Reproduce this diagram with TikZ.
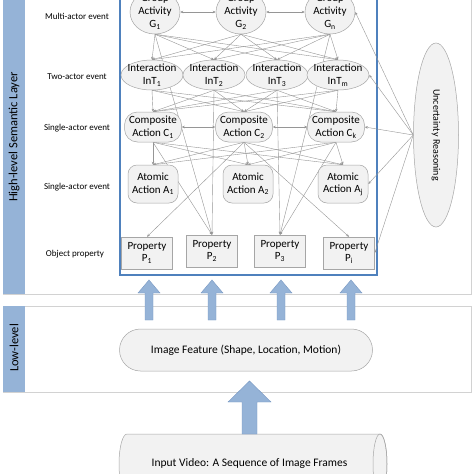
\documentclass[tikz,border=0pt]{standalone}
\usepackage{fontspec}
\setmainfont{Carlito}
\usetikzlibrary{shapes.geometric,arrows.meta}
\pgfdeclarelayer{back}
\pgfdeclarelayer{mid}
\pgfsetlayers{back,mid,main}
\definecolor{barblue}{RGB}{149,179,215}
\definecolor{arrowedge}{RGB}{120,152,195}
\definecolor{innerblue}{RGB}{79,129,189}
\definecolor{panelgray}{RGB}{210,210,210}
\definecolor{nodefill}{RGB}{242,242,242}
\definecolor{nodeline}{RGB}{166,166,166}
\definecolor{edgegray}{RGB}{150,150,150}
\newcommand{\blockarrow}[6]{%
  \filldraw[barrowstyle] (#1-#4,#3) -- (#1-#4,#2+#6) -- (#1-#5,#2+#6) -- (#1,#2)
    -- (#1+#5,#2+#6) -- (#1+#4,#2+#6) -- (#1+#4,#3) -- cycle;}
\begin{document}
\begin{tikzpicture}[x=1pt,y=-1pt,
  barrowstyle/.style={fill=barblue,draw=arrowedge,line width=0.4pt},
  nodetext/.style={font=\fontsize{11}{13}\selectfont,align=center,inner sep=0pt},
  basebox/.style={draw=nodeline,fill=nodefill,line width=0.5pt,inner sep=0pt},
  grp/.style={basebox,ellipse,minimum width=50pt,minimum height=44pt,label={[nodetext]center:{#1}}},
  inter/.style={basebox,ellipse,minimum width=62pt,minimum height=30pt,label={[nodetext]center:{#1}}},
  comp/.style={basebox,nodetext,rectangle,rounded corners=13pt,minimum width=57pt,minimum height=30pt},
  atom/.style={basebox,nodetext,font=\fontsize{11}{12.5}\selectfont,rectangle,rounded corners=9pt,minimum width=50pt,minimum height=38pt},
  prop/.style={basebox,nodetext,font=\fontsize{11}{12}\selectfont,rectangle,minimum width=51pt,minimum height=32pt},
  rowlab/.style={font=\fontsize{9}{11}\selectfont,inner sep=0pt},
  bartext/.style={font=\fontsize{12.5}{14}\selectfont,rotate=90,inner sep=0pt},
  edge/.style={draw=edgegray,line width=0.4pt,-{Stealth[length=3pt,width=2.6pt]}},
  dedge/.style={draw=edgegray,line width=0.4pt,{Stealth[length=3pt,width=2.6pt]}-{Stealth[length=3pt,width=2.6pt]}}
]
\useasboundingbox (0,0) rectangle (474,474);
\clip (0,0) rectangle (474,474);

% panels
\begin{pgfonlayer}{back}
\draw[panelgray,line width=0.6pt,fill=white] (3,-5) rectangle (471,294);
\fill[barblue] (3,-5) rectangle (25,294);
\draw[panelgray,line width=0.6pt,fill=white] (3,306) rectangle (471,392);
\fill[barblue] (3,306) rectangle (25,392);
\draw[innerblue,line width=1.2pt] (120,-5) rectangle (377,275);
\end{pgfonlayer}

\node[bartext] (hl) at (14,137) {High-level Semantic Layer};
\node[bartext] (ll) at (14,348) {Low-level};

% row labels
\node[rowlab] (r1) at (77,16) {Multi-actor event};
\node[rowlab] (r2) at (77,77) {Two-actor event};
\node[rowlab] (r3) at (77,128) {Single-actor event};
\node[rowlab] (r4) at (77,187) {Single-actor event};
\node[rowlab] (r5) at (75,254) {Object property};

% group activities
\node[grp={Group\\Activity\\G\textsubscript{1}}] (g1) at (155,12) {};
\node[grp={Group\\Activity\\G\textsubscript{2}}] (g2) at (241,12) {};
\node[grp={Group\\Activity\\G\textsubscript{n}}] (gn) at (330,12) {};

% interactions
\node[inter={Interaction\\InT\textsubscript{1}}] (i1) at (152,75) {};
\node[inter={Interaction\\InT\textsubscript{2}}] (i2) at (214,75) {};
\node[inter={Interaction\\InT\textsubscript{3}}] (i3) at (277,75) {};
\node[inter={Interaction\\InT\textsubscript{m}}] (im) at (338,75) {};

% composite actions
\node[comp] (c1) at (153,127) {Composite\\Action C\textsubscript{1}};
\node[comp] (c2) at (244,127) {Composite\\Action C\textsubscript{2}};
\node[comp] (ck) at (336,127) {Composite\\Action C\textsubscript{k}};

% atomic actions
\node[atom] (a1) at (153,184) {Atomic\\Action A\textsubscript{1}};
\node[atom] (a2) at (248,184) {Atomic\\Action A\textsubscript{2}};
\node[atom] (aj) at (343,184) {Atomic\\Action A\textsubscript{j}};

% properties
\node[prop] (p1) at (147,253) {Property\\P\textsubscript{1}};
\node[prop] (p2) at (212,251) {Property\\P\textsubscript{2}};
\node[prop] (p3) at (280,251) {Property\\P\textsubscript{3}};
\node[prop] (pi) at (349,253) {Property\\P\textsubscript{i}};

% uncertainty reasoning
\node[basebox,ellipse,minimum width=45pt,minimum height=184pt] (ur) at (436,135) {};
\node[font=\fontsize{10}{12}\selectfont,rotate=-90,inner sep=0pt] (urt) at (ur.center) {Uncertainty Reasoning};

% image feature
\node[basebox,rectangle,rounded corners=21pt,minimum width=253pt,minimum height=42pt,
      font=\fontsize{11.5}{13}\selectfont] (feat) at (246,350) {Image Feature (Shape, Location, Motion)};

% input video cylinder
\filldraw[draw=nodeline,fill=nodefill,line width=0.5pt]
  (127,434) -- (380,434) arc[start angle=-90,end angle=90,x radius=7,y radius=30]
  -- (127,494) arc[start angle=90,end angle=270,x radius=8,y radius=30] -- cycle;
\draw[nodeline,line width=0.5pt] (380,464) ellipse[x radius=7,y radius=30];
\node[font=\fontsize{11.5}{13}\selectfont,inner sep=0pt] (inp) at (249.5,463) {Input Video: A Sequence of Image Frames};

% block arrows
\blockarrow{249.5}{381}{434}{7.5}{21.5}{21}
\blockarrow{149}{280}{320}{4}{11}{13}
\blockarrow{212}{280}{320}{4}{11}{13}
\blockarrow{281}{280}{320}{4}{11}{13}
\blockarrow{351}{280}{320}{4}{11}{13}

% edges
\begin{pgfonlayer}{mid}
\foreach \g in {g1,g2,gn}{
  \foreach \i in {i1,i2,i3,im}{\draw[edge] (\g.south) -- (\i.north);}}
\foreach \i in {i1,i2,i3,im}{
  \foreach \c in {c1,c2,ck}{\draw[edge] (\i.south) -- (\c.north);}}
\foreach \c in {c1,c2,ck}{
  \foreach \a in {a1,a2,aj}{\draw[edge] (\c.south) -- (\a.north);}}
\draw[edge] (g1.south) -- (p2.north);
\draw[edge] (gn.south) -- (p3.north);
\draw[edge] (i2.south) -- (p2.north);
\draw[edge] (i3.south) -- (p3.north);
\draw[edge] (c1.south) -- (p2.north);
\draw[edge] (c2.south) -- (p1.north);
\draw[edge] (c2.south) -- (pi.north);
\draw[edge] (ck.south) -- (p3.north);
\draw[dedge] (g1) -- (g2);
\draw[dedge] (g2) -- (gn);
\draw[dedge] (c1) -- (c2);
\draw[dedge] (c2) -- (ck);
\foreach \t in {gn,im,ck,aj,pi}{\draw[edge] (ur.west) -- (\t.east);}
\end{pgfonlayer}
\end{tikzpicture}
\end{document}
